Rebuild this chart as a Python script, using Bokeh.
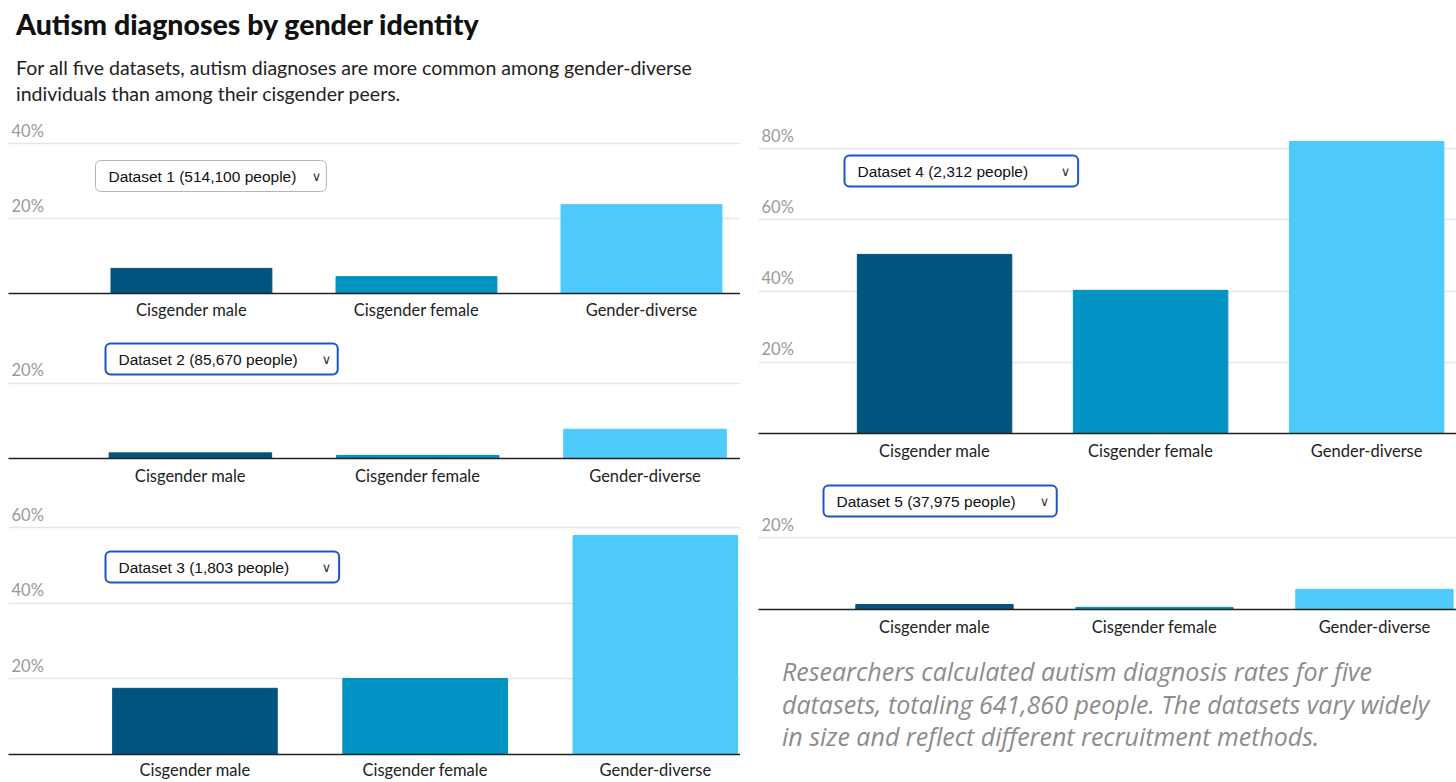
from bokeh.plotting import figure
from bokeh.models import Range1d, FixedTicker, Label, Div
from bokeh.layouts import column, row
from bokeh.core.properties import value
from bokeh.embed import file_html
from bokeh.resources import INLINE

# categories and colours
groups = ["Cisgender male", "Cisgender female", "Gender-diverse"]
colors = ["#00557f", "#0092c3", "#4dcafb"]

# autism diagnosis rate (%) per dataset
rates_1 = [6.7, 4.5, 23.7]
rates_2 = [1.5, 0.8, 7.8]
rates_3 = [17.5, 20.1, 57.9]
rates_4 = [50.3, 40.2, 82.0]
rates_5 = [1.4, 0.6, 5.6]

menus = ["Dataset 1 (514,100 people)", "Dataset 2 (85,670 people)",
         "Dataset 3 (1,803 people)", "Dataset 4 (2,312 people)",
         "Dataset 5 (37,975 people)"]

ticks_1 = [20, 40]
ticks_2 = [20]
ticks_3 = [20, 40, 60]
ticks_4 = [20, 40, 60, 80]
ticks_5 = [20]

FONT = "Lato"


def panel(rates, ticks, menu, width, height, xr, y_end, left_pad, bottom_pad,
          menu_left, menu_top, menu_right_pad, menu_grey=False, standoff=7):
    p = figure(width=width, height=height, x_range=Range1d(*xr), y_range=Range1d(0, y_end),
               output_backend="svg", toolbar_location=None,
               min_border_left=left_pad, min_border_right=0, min_border_top=0,
               min_border_bottom=bottom_pad)
    p.outline_line_color = None
    p.background_fill_color = "white"
    p.border_fill_color = "white"

    p.vbar(x=list(range(len(groups))), top=rates, width=0.715, color=colors)

    p.yaxis.visible = False
    p.xgrid.visible = False
    p.ygrid.ticker = FixedTicker(ticks=ticks)
    p.ygrid.grid_line_color = "#e6e6e6"
    p.ygrid.grid_line_width = 1.5

    ax = p.xaxis[0]
    ax.ticker = FixedTicker(ticks=list(range(len(groups))))
    ax.major_label_overrides = {i: g for i, g in enumerate(groups)}
    ax.major_tick_line_color = None
    ax.minor_tick_line_color = None
    ax.major_tick_out = 0
    ax.major_tick_in = 0
    ax.minor_tick_out = 0
    ax.axis_line_color = "#222222"
    ax.axis_line_width = 1.3
    ax.major_label_text_font = FONT
    ax.major_label_text_font_size = "16.5px"
    ax.major_label_text_color = "#222222"
    ax.major_label_standoff = standoff

    p.text(x=[xr[0]] * len(ticks), y=ticks, text=[f"{t}%" for t in ticks],
           text_font=value(FONT), text_font_size="16.5px", text_color="#9a9a9a",
           text_baseline="bottom", x_offset=3, y_offset=-3)

    frame_h = height - bottom_pad
    border = "#b5b5b5" if menu_grey else "#1a56c8"
    p.add_layout(Label(x=menu_left, y=frame_h - menu_top, x_units="screen", y_units="screen",
                       text=menu, anchor="top_left", text_font="Liberation Sans",
                       text_font_size="15.5px", text_color="#111111",
                       background_fill_color="white",
                       border_line_color=border, border_line_width=1 if menu_grey else 2,
                       border_radius=5,
                       padding=dict(left=13, right=menu_right_pad, top=7, bottom=7)))
    p.add_layout(Label(x=menu_left + 221, y=frame_h - menu_top - 16, x_units="screen",
                       y_units="screen", text="\u2228", text_align="center",
                       text_baseline="middle", text_font="DejaVu Sans",
                       text_font_size="13px", text_color="#333333"))
    return p


p1 = panel(rates_1, ticks_1, menus[0], 740, 212, (-0.813, 2.44), 46.7, 8, 37, 87, 42, 30,
           menu_grey=True, standoff=6)
p2 = panel(rates_2, ticks_2, menus[1], 740, 160, (-0.80, 2.42), 34.1, 8, 32, 97, 13, 40)
p3 = panel(rates_3, ticks_3, menus[2], 740, 292, (-0.81, 2.37), 69.8, 8, 28, 97, 61, 50,
           standoff=5)
p4 = panel(rates_4, ticks_4, menus[3], 716, 465, (-0.815, 2.416), 121.6, 18, 32, 86, 155, 50)
p5 = panel(rates_5, ticks_5, menus[4], 716, 175, (-0.80, 2.373), 40.0, 18, 31, 65, 20, 41)

title = Div(text=(
    '<div style="font-family:Lato;font-weight:900;font-size:28.5px;color:#111;'
    'line-height:32px;padding-left:16px;padding-top:8px;">Autism diagnoses by gender identity</div>'
    '<div style="font-family:Lato;font-size:19.5px;color:#222;line-height:26px;'
    'margin-top:15px;padding-left:16px;">For all five datasets, autism diagnoses are more '
    'common among gender-diverse<br>individuals than among their cisgender peers.</div>'),
    width=740, height=118, margin=0)

note = Div(text=(
    '<div style="font-family:\'Open Sans\';font-style:italic;font-size:25px;color:#8c8c8c;'
    'line-height:32.5px;padding-left:42px;padding-top:15px;">'
    'Researchers calculated autism diagnosis rates for five<br>'
    'datasets, totaling 641,860 people. The datasets vary widely<br>'
    'in size and reflect different recruitment methods.</div>'),
    width=716, height=142, margin=0)

layout = row(column(title, p1, p2, p3), column(p4, p5, note))

open("out.html", "w").write(file_html(layout, INLINE, "Autism diagnoses by gender identity"))
